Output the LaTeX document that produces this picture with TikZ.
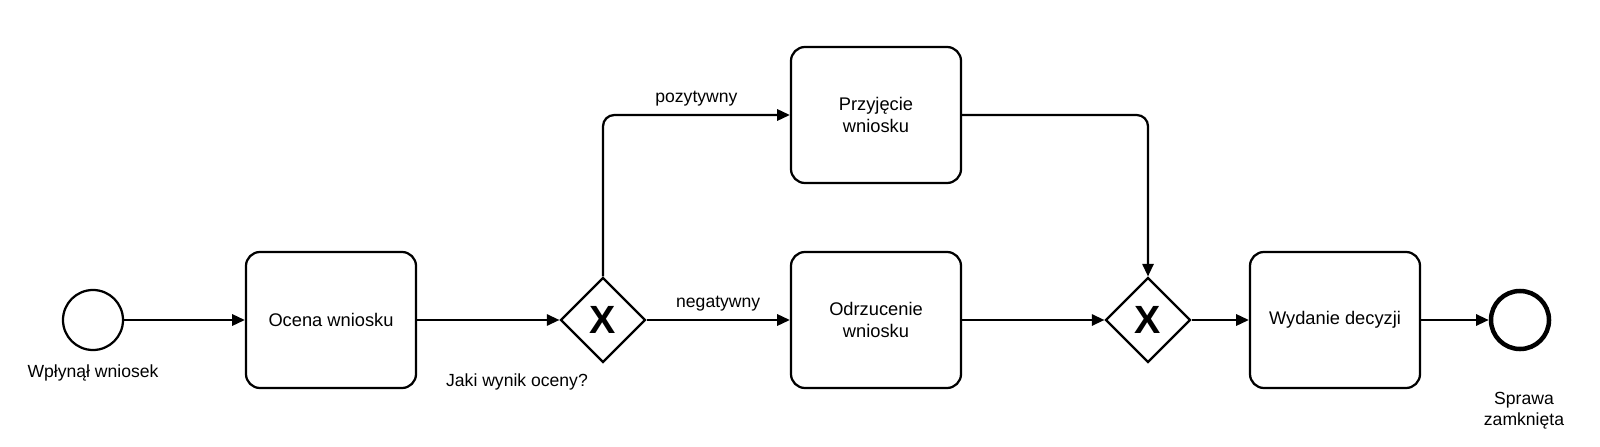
\documentclass[tikz,border=0pt]{standalone}
\usepackage{fontspec}
\setmainfont{Liberation Sans}
\usetikzlibrary{arrows.meta,shapes.geometric}
\begin{document}
\begin{tikzpicture}[x=0.025cm,y=-0.025cm,
  task/.style={draw,line width=1.6pt,rounded corners=10pt,minimum width=4.25cm,minimum height=3.4cm,align=center,font=\fontsize{13}{16}\selectfont},
  gw/.style={draw,diamond,line width=1.6pt,minimum width=2.12cm,minimum height=2.12cm,inner sep=0pt,font=\fontsize{28}{30}\selectfont\bfseries},
  flow/.style={line width=1.6pt,-{Triangle[length=9pt,width=8pt]},rounded corners=8pt},
  lbl/.style={font=\fontsize{12.5}{15}\selectfont,align=center}]
\clip (0,0) rectangle (1600,447);
\useasboundingbox (0,0) rectangle (1600,447);
\node[circle,draw,line width=1.6pt,minimum size=1.5cm,inner sep=0pt] (s) at (93,320) {};
\node[lbl] (sl) at (93,373) {Wpłynął wniosek};
\node[task] (a) at (331,320) {Ocena wniosku};
\node[gw] (g1) at (603,320) {X};
\node[lbl] (g1l) at (517,382) {Jaki wynik oceny?};
\node[task] (p) at (876,115) {Przyjęcie\\wniosku};
\node[task] (o) at (876,320) {Odrzucenie\\wniosku};
\node[gw] (g2) at (1148,320) {X};
\node[task] (w) at (1335,320) {Wydanie decyzji};
\node[circle,draw,line width=3.2pt,minimum size=1.45cm,inner sep=0pt] (e) at (1520,320) {};
\node[lbl] (el) at (1524,411) {Sprawa\\zamknięta};
\draw[flow] (s) -- (a);
\draw[flow] (a) -- (g1);
\draw[flow] (g1.north) |- (p.west) node[lbl,pos=0.75,above=2pt] {pozytywny};
\draw[flow] (g1) -- (o) node[lbl,midway,above=2pt] {negatywny};
\draw[flow] (p.east) -| (g2.north);
\draw[flow] (o) -- (g2);
\draw[flow] (g2) -- (w);
\draw[flow] (w) -- (e);
\end{tikzpicture}
\end{document}
